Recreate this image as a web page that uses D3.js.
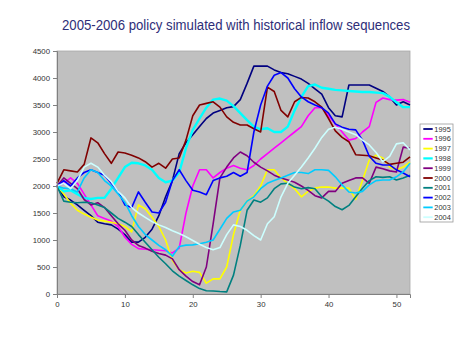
<!DOCTYPE html>
<html>
<head>
<meta charset="utf-8">
<script src="https://cdn.jsdelivr.net/npm/d3@7"></script>
<style>
  body { margin: 0; background: #fff; }
  svg { display: block; font-family: "Liberation Sans", Arial, sans-serif; }
</style>
</head>
<body>
<svg id="chart" width="474" height="355"></svg>
<script>
const title = "2005-2006 policy simulated with historical inflow sequences";
const weeks = d3.range(0, 53);
const years = ["1995","1996","1997","1998","1999","2000","2001","2002","2003","2004"];
const colors = ["#000080","#FF00FF","#FFFF00","#00FFFF","#800080","#800000","#008080","#0000FF","#00CCFF","#CCFFFF"];
const yTicks = [0,500,1000,1500,2000,2500,3000,3500,4000,4500];
const xTicks = [0,10,20,30,40,50];

const s1995 = [2000,1800,1740,1650,1550,1450,1330,1300,1280,1200,1100,960,960,1050,1200,1450,1800,2100,2600,2800,2950,3100,3250,3350,3400,3450,3470,3600,3900,4220,4220,4220,4150,4100,4080,4030,3980,3900,3800,3700,3450,3300,3280,3870,3870,3870,3870,3810,3750,3650,3500,3560,3500];
const s1996 = [2000,2050,2150,2050,1850,1650,1450,1400,1350,1250,1050,920,840,830,820,810,800,760,850,1500,2000,2300,2300,2150,2250,2330,2380,2330,2300,2380,2500,2600,2700,2800,2900,3000,3100,3300,3450,3450,3300,3150,3000,2850,2880,3000,3100,3550,3630,3600,3590,3600,3550];
const s1997 = [2000,1850,1680,1550,1480,1420,1370,1350,1330,1300,1250,1150,1650,1580,1420,1250,1000,620,450,390,420,400,200,280,280,500,1100,1550,1720,1820,2000,2300,2300,2150,2050,1950,1800,1900,1960,1980,1980,1960,1960,1960,1750,2100,2480,2570,2520,2350,2300,2350,2440];
const s1998 = [2000,1900,1920,1850,1780,1760,1780,1780,1950,2150,2350,2430,2420,2380,2300,2150,2070,2100,2250,2700,3040,3250,3450,3600,3620,3580,3480,3350,3220,3100,3050,3070,3000,3000,3100,3400,3650,3850,3880,3820,3800,3780,3770,3760,3750,3740,3740,3730,3720,3650,3550,3460,3460];
const s1999 = [2000,2150,2050,1950,1750,1650,1690,1600,1450,1300,1180,1000,900,850,790,750,720,650,450,330,230,170,500,1300,2150,2350,2520,2630,2560,2440,2350,2280,2200,2150,2110,2070,2000,1920,1820,1780,1900,1900,2050,2100,2150,2150,2050,2350,2320,2280,2260,2720,2700];
const s2000 = [2050,2300,2280,2260,2400,2890,2800,2600,2420,2630,2610,2570,2520,2450,2350,2420,2330,2500,2520,2850,3300,3500,3530,3560,3460,3280,3180,3130,3130,3060,3000,3830,3750,3400,3280,3560,3640,3630,3560,3460,3250,3020,2900,2820,2580,2570,2560,2520,2480,2400,2420,2440,2540];
const s2001 = [2000,1720,1700,1690,1700,1690,1650,1600,1500,1400,1330,1250,1100,960,820,680,560,430,330,250,170,100,60,55,45,40,350,900,1550,1740,1700,1780,1950,2040,2050,1980,1950,1970,1950,1800,1720,1620,1560,1640,1800,1960,2100,2170,2160,2170,2110,2150,2200];
const s2002 = [2000,2100,2000,2150,2250,2300,2250,2200,2050,1900,1650,1600,1890,1700,1520,1500,1700,2100,2300,2100,1920,1890,1840,2100,2150,2180,2250,2180,2250,3000,3500,3850,4050,4100,4000,3800,3650,3560,3500,3450,3350,3150,3090,3050,3040,2850,2550,2420,2390,2390,2300,2240,2170];
const s2003 = [2000,1960,1950,1890,2150,2300,2250,2100,2000,1850,1700,1450,1250,1100,1000,900,820,700,880,905,910,930,960,1000,1200,1400,1520,1550,1720,1800,1950,2050,2100,2150,2200,2250,2250,2230,2300,2300,2290,2170,2020,1890,1870,1900,2020,2100,2110,2110,2170,2260,2420];
const s2004 = [2000,2050,1950,2100,2350,2420,2350,2200,2080,1900,1780,1600,1500,1420,1340,1280,1230,1170,1120,1060,990,920,860,820,860,1100,1280,1250,1180,1080,1000,1300,1430,1800,2050,2200,2350,2520,2700,2900,3050,3090,3050,3000,2950,2850,2760,2620,2450,2550,2780,2800,2670];
const seriesValues = [s1995,s1996,s1997,s1998,s1999,s2000,s2001,s2002,s2003,s2004];

const svg = d3.select("#chart");
const m = {left: 57, top: 51, right: 410, bottom: 294};

const x = d3.scaleLinear().domain([0, 52]).range([m.left, m.right]);
const y = d3.scaleLinear().domain([0, 4500]).range([m.bottom, m.top]);

svg.append("rect").attr("width", 474).attr("height", 355).attr("fill", "#fff");

svg.append("text")
  .attr("x", 236).attr("y", 30)
  .attr("text-anchor", "middle")
  .attr("font-size", 14)
  .attr("textLength", 348)
  .attr("lengthAdjust", "spacingAndGlyphs")
  .attr("fill", "#2e2e78")
  .text(title);

svg.append("rect")
  .attr("x", m.left).attr("y", m.top)
  .attr("width", m.right - m.left).attr("height", m.bottom - m.top)
  .attr("fill", "#c0c0c0")
  .attr("stroke", "#a8a8a8").attr("stroke-width", 0.8);

const line = d3.line().x((d, i) => x(weeks[i])).y(d => y(d));

seriesValues.forEach((vals, k) => {
  svg.append("path")
    .datum(vals)
    .attr("fill", "none")
    .attr("stroke", colors[k])
    .attr("stroke-width", k === 3 ? 2.4 : 1.6)
    .attr("stroke-linejoin", "round")
    .attr("d", line);
});

const yAxis = svg.append("g")
  .attr("transform", `translate(${m.left},0)`)
  .call(d3.axisLeft(y).tickValues(yTicks).tickSize(4).tickPadding(3).tickFormat(d3.format("d")));
const xAxis = svg.append("g")
  .attr("transform", `translate(0,${m.bottom})`)
  .call(d3.axisBottom(x).tickValues(xTicks).tickSize(4).tickPadding(3).tickFormat(d3.format("d")));
[yAxis, xAxis].forEach(g => {
  g.select(".domain").attr("stroke", "#808080").attr("stroke-width", 1);
  g.selectAll(".tick line").attr("stroke", "#808080");
  g.selectAll(".tick text").attr("fill", "#333").attr("font-size", 7.8)
    .attr("font-family", "'Liberation Sans', Arial, sans-serif");
});

const lg = svg.append("g").attr("transform", "translate(420,124)");
lg.append("rect").attr("width", 33).attr("height", 98)
  .attr("fill", "#fff").attr("stroke", "#999").attr("stroke-width", 0.8);
years.forEach((yr, i) => {
  const cy = 5 + i * 9.8;
  lg.append("line").attr("x1", 3.3).attr("x2", 12.7).attr("y1", cy).attr("y2", cy)
    .attr("stroke", colors[i]).attr("stroke-width", i === 3 ? 2.2 : 1.8);
  lg.append("text").attr("x", 14.3).attr("y", cy + 2.6)
    .attr("font-size", 7.4).attr("fill", "#333").text(yr);
});
</script>
</body>
</html>
